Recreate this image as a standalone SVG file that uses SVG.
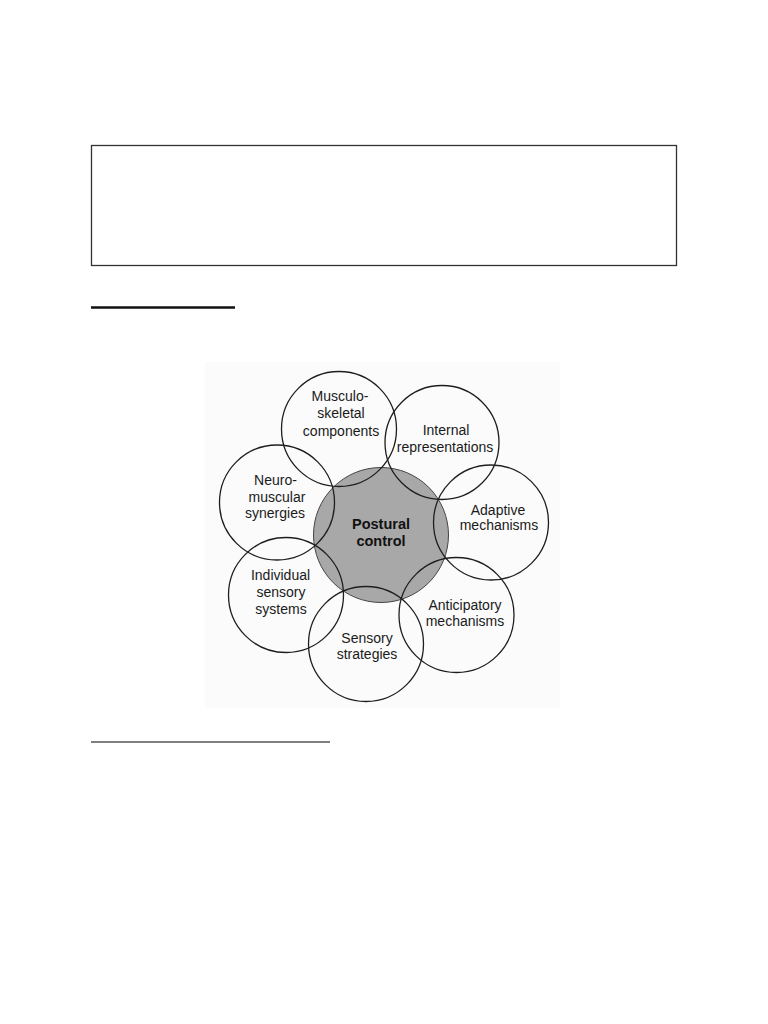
<svg xmlns="http://www.w3.org/2000/svg" width="768" height="1024" viewBox="0 0 768 1024">
<style>
.ring{fill:none;stroke:#1e1e1e;stroke-width:1.3}
.lbl{font-family:"Liberation Sans",Arial,sans-serif;font-size:14px;fill:#1a1a1a;text-anchor:middle}
.ctr{font-family:"Liberation Sans",Arial,sans-serif;font-size:14.5px;font-weight:bold;fill:#111;text-anchor:middle}
</style>
<rect width="768" height="1024" fill="#ffffff"/>
<g id="frame">
<rect x="91.5" y="145.5" width="585" height="120" fill="none" stroke="#333" stroke-width="1.3"/>
<line x1="91" y1="307.5" x2="235" y2="307.5" stroke="#111" stroke-width="2.5"/>
<line x1="91" y1="742" x2="330" y2="742" stroke="#555" stroke-width="1.6"/>
</g>
<rect x="205" y="362" width="355" height="346" fill="#fbfbfb"/>
<g id="center">
<circle cx="381" cy="535" r="67.5" fill="#a8a8a8" stroke="#444" stroke-width="1"/>
<text class="ctr" x="381" y="529">Postural</text>
<text class="ctr" x="381" y="546">control</text>
</g>
<g id="musculo">
<circle class="ring" cx="339" cy="429" r="57.5"/>
<text class="lbl" x="340" y="401">Musculo-</text>
<text class="lbl" x="341" y="418">skeletal</text>
<text class="lbl" x="341" y="435.5">components</text>
</g>
<g id="internal">
<circle class="ring" cx="442" cy="442.5" r="57"/>
<text class="lbl" x="446" y="435">Internal</text>
<text class="lbl" x="445" y="451.5">representations</text>
</g>
<g id="neuro">
<circle class="ring" cx="277" cy="502.5" r="57.5"/>
<text class="lbl" x="275.5" y="485">Neuro-</text>
<text class="lbl" x="277" y="501.5">muscular</text>
<text class="lbl" x="275" y="517.5">synergies</text>
</g>
<g id="adaptive">
<circle class="ring" cx="491" cy="522.5" r="57.5"/>
<text class="lbl" x="498" y="515">Adaptive</text>
<text class="lbl" x="499" y="529.5">mechanisms</text>
</g>
<g id="individual">
<circle class="ring" cx="286" cy="595" r="57.5"/>
<text class="lbl" x="280.5" y="580">Individual</text>
<text class="lbl" x="281" y="596.5">sensory</text>
<text class="lbl" x="281" y="614">systems</text>
</g>
<g id="anticipatory">
<circle class="ring" cx="456.5" cy="615" r="57.5"/>
<text class="lbl" x="465" y="610">Anticipatory</text>
<text class="lbl" x="465" y="626">mechanisms</text>
</g>
<g id="strategies">
<circle class="ring" cx="366" cy="644" r="57.5"/>
<text class="lbl" x="367" y="642.5">Sensory</text>
<text class="lbl" x="367" y="658.5">strategies</text>
</g>
<g id="connectors"></g>
</svg>
